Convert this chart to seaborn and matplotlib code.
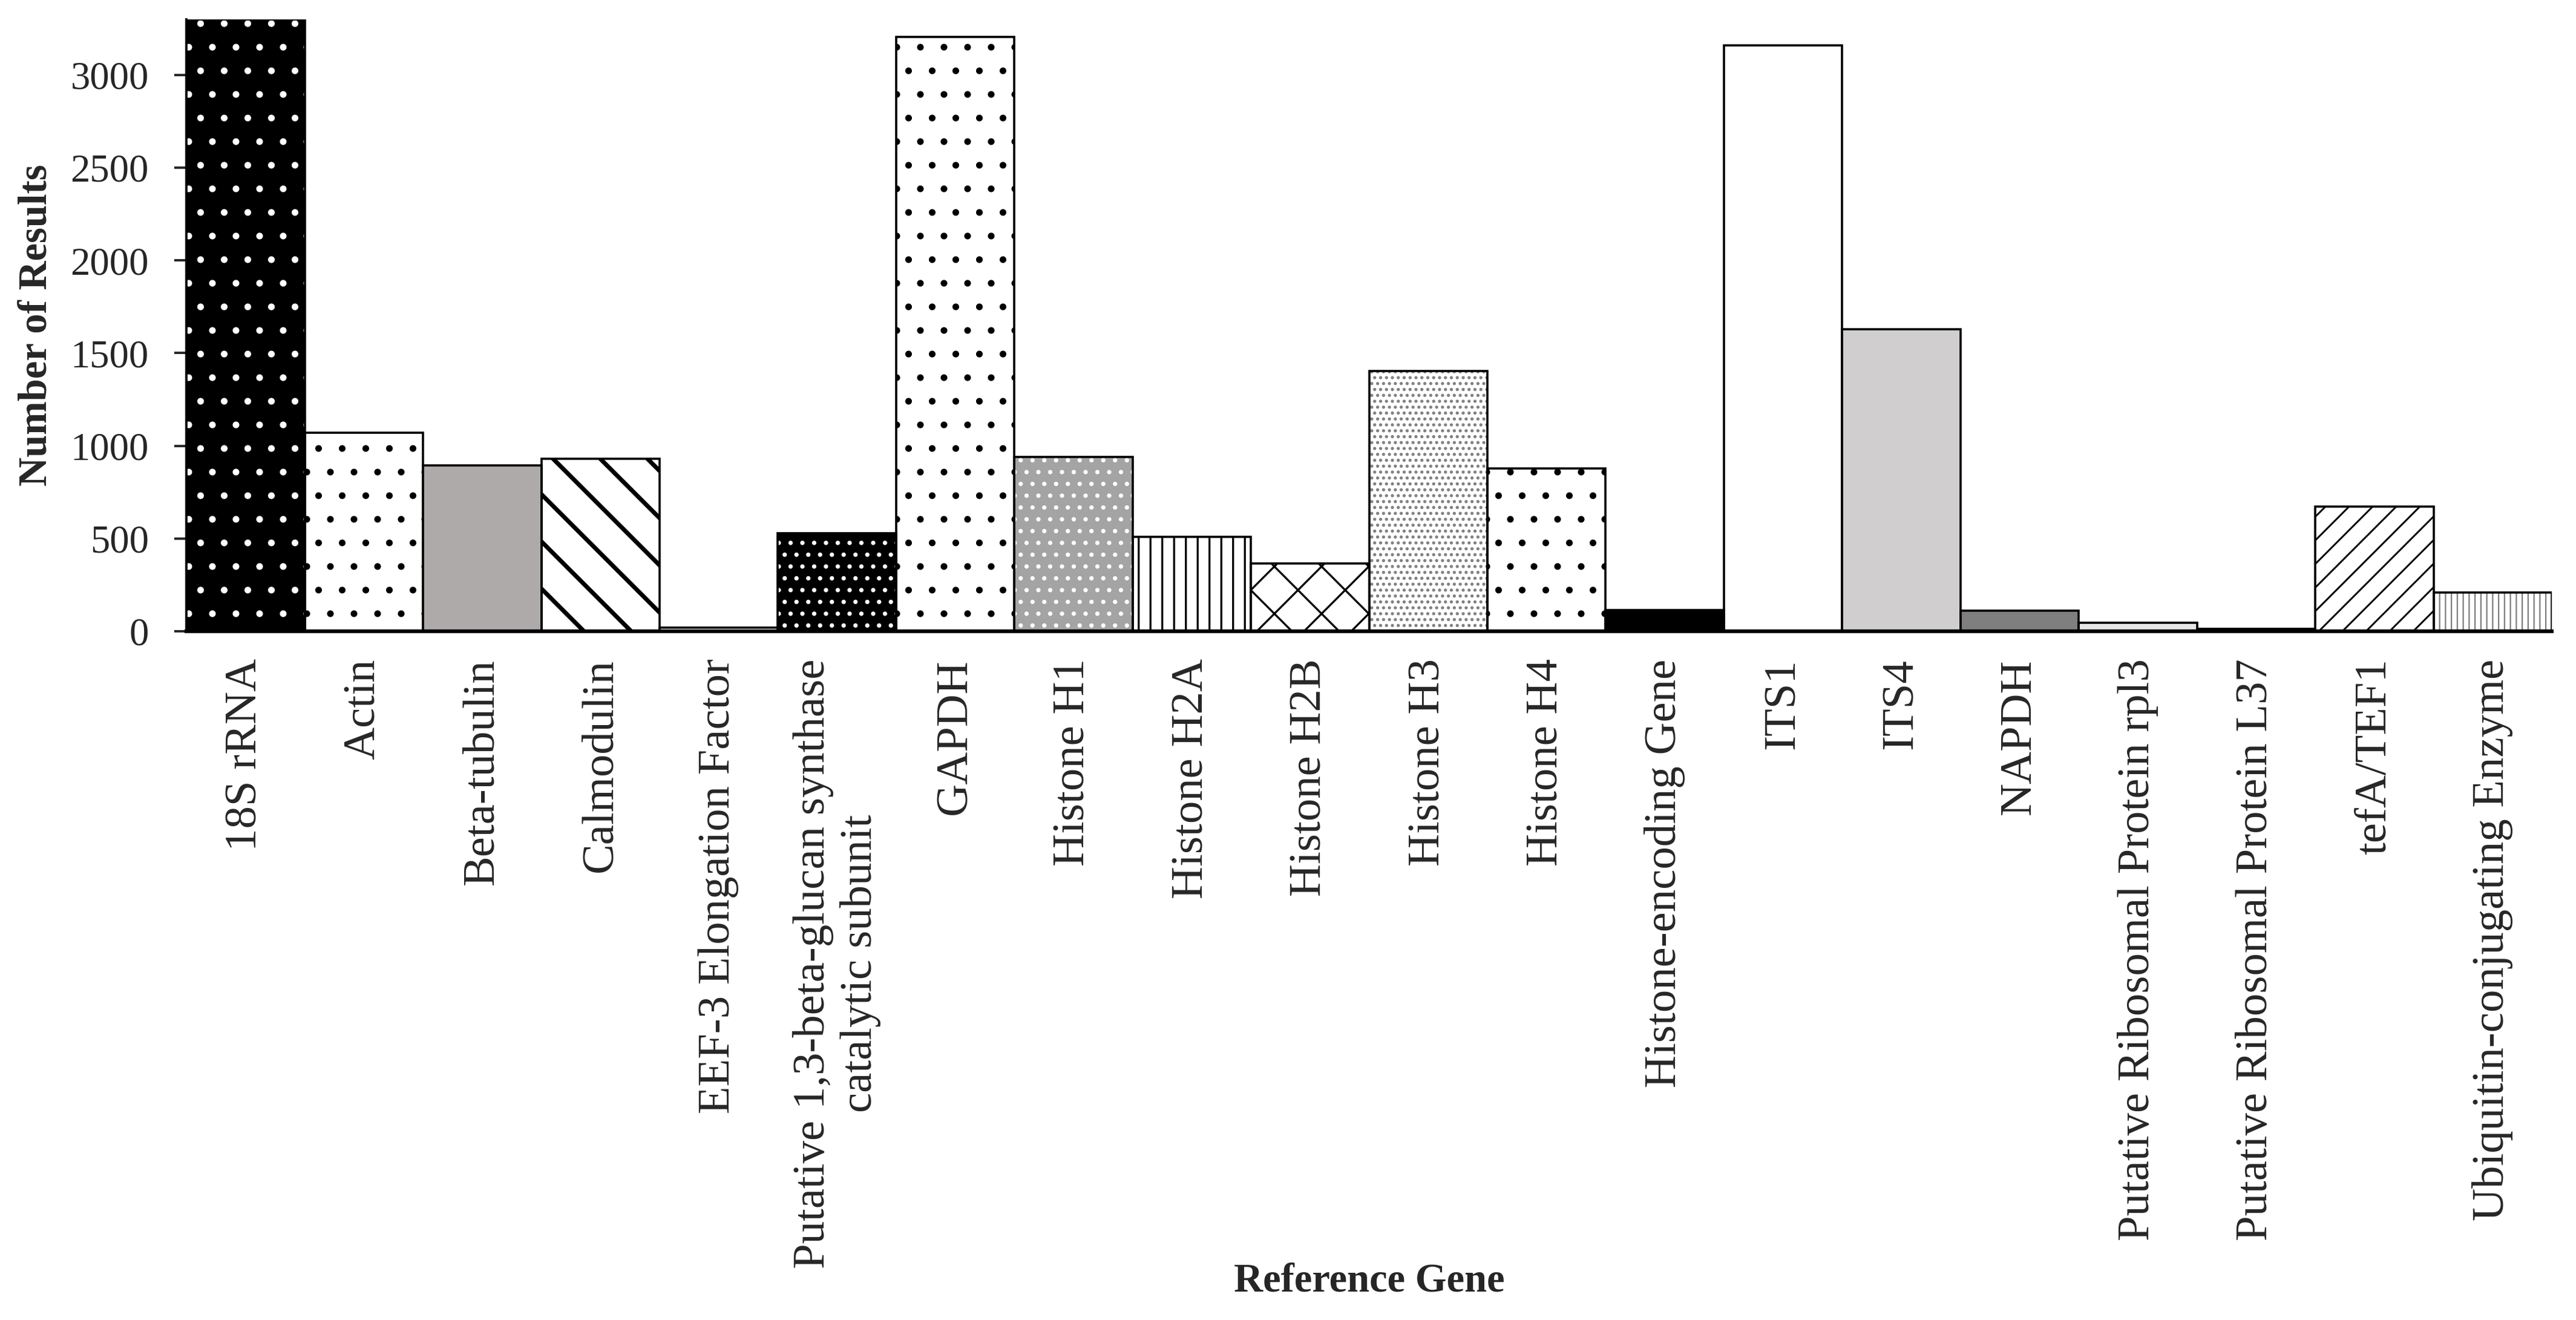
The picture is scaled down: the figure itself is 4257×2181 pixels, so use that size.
import matplotlib
matplotlib.use('Agg')
import matplotlib.pyplot as plt
import pandas as pd
import seaborn as sns

# Dữ liệu
genes = ['18S rRNA', 'Actin', 'Beta-tubulin', 'Calmodulin', 'EEF-3 Elongation Factor',
         'Putative 1,3-beta-glucan synthase\ncatalytic subunit', 'GAPDH', 'Histone H1',
         'Histone H2A', 'Histone H2B', 'Histone H3', 'Histone H4', 'Histone-encoding Gene',
         'ITS1', 'ITS4', 'NAPDH', 'Putative Ribosomal Protein rpl3',
         'Putative Ribosomal Protein L37', 'tefA/TEF1', 'Ubiquitin-conjugating Enzyme']
counts = [3300, 1070, 893, 930, 20, 530, 3206, 941, 510, 367, 1405, 877, 115,
          3160, 1630, 110, 46, 14, 672, 209]
y_ticks = [0, 500, 1000, 1500, 2000, 2500, 3000]

# Màu nền, kiểu hatch và màu hatch cho từng cột
face_colors = ['black', 'white', '#aeaaaa', 'white', 'white', 'black', 'white', '#a4a4a4',
               'white', 'white', 'white', 'white', 'black', 'white', '#d0cece', '#7f7f7f',
               '#e6e6e6', 'black', 'white', 'white']
hatches = ['.', '.', '', '\\', '', '..', '.', '..', '||', 'x', '....', '.', '',
           '', '', '', '', '', '//', '||||']
hatch_colors = ['white', 'black', 'black', 'black', 'black', 'white', 'black', 'white',
                'black', 'black', '#808080', 'black', 'black', 'black', 'black', 'black',
                'black', 'black', 'black', '#7f7f7f']
hatch_widths = [1, 1, 1, 2.2, 1, 1, 1, 1, 1, 1, 1, 1, 1, 1, 1, 1, 1, 1, 0.9, 0.7]

df = pd.DataFrame({'Gene': genes, 'Count': counts})

sns.set_style('white')
plt.rcParams['font.family'] = ['Liberation Serif', 'DejaVu Serif']
plt.rcParams['hatch.linewidth'] = 1.0

DPI = 234  # dpi nhỏ hơn để mật độ hatch giống bản gốc
fig, ax = plt.subplots(figsize=(4257 / DPI, 2181 / DPI), dpi=DPI)
fig.subplots_adjust(left=0.0724, right=0.9906, top=0.9853, bottom=0.5218)

# Lớp 1: nền + hoa văn
sns.barplot(data=df, x='Gene', y='Count', hue='Gene', order=genes, hue_order=genes,
            palette=dict(zip(genes, face_colors)), width=1.0, saturation=1,
            linewidth=0, errorbar=None, legend=False, ax=ax)
for cont, h, hc, hw in zip(ax.containers, hatches, hatch_colors, hatch_widths):
    for bar in cont:
        bar.set_edgecolor(hc)
        bar.set_linewidth(0)
        if h:
            bar.set_hatch(h)
            if hasattr(bar, 'set_hatch_linewidth'):
                bar.set_hatch_linewidth(hw)

# Lớp 2: viền đen
sns.barplot(data=df, x='Gene', y='Count', order=genes, width=1.0, fill=False,
            color='black', linewidth=1.1, errorbar=None, ax=ax)

ax.set_xlim(-0.5, len(genes) - 0.5)
ax.set_ylim(0, 3300)
ax.set_yticks(y_ticks)
ax.set_yticklabels([str(v) for v in y_ticks], fontsize=19.9)
ax.set_xticks(range(len(genes)))
ax.set_xticklabels(genes, rotation=90, fontsize=23, ha='center', va='top',
                   multialignment='center')
ax.tick_params(axis='x', length=0, pad=14)
ax.tick_params(axis='y', length=6.2, width=1.2, pad=13, direction='out', left=True)

for side in ['top', 'right']:
    ax.spines[side].set_visible(False)
ax.spines['left'].set_linewidth(1.2)
ax.spines['bottom'].set_linewidth(1.9)
ax.spines['left'].set_color('black')
ax.spines['bottom'].set_color('black')

ax.set_xlabel('Reference Gene', fontsize=20.5, fontweight='bold')
ax.set_ylabel('Number of Results', fontsize=20.5, fontweight='bold')
ax.xaxis.set_label_coords(0.5, -1.062)
ax.xaxis.label.set_va('center')
ax.yaxis.set_label_coords(-0.0634, 0.5)
ax.yaxis.label.set_va('center')

fig.savefig('out.png', dpi=DPI, facecolor='white')
